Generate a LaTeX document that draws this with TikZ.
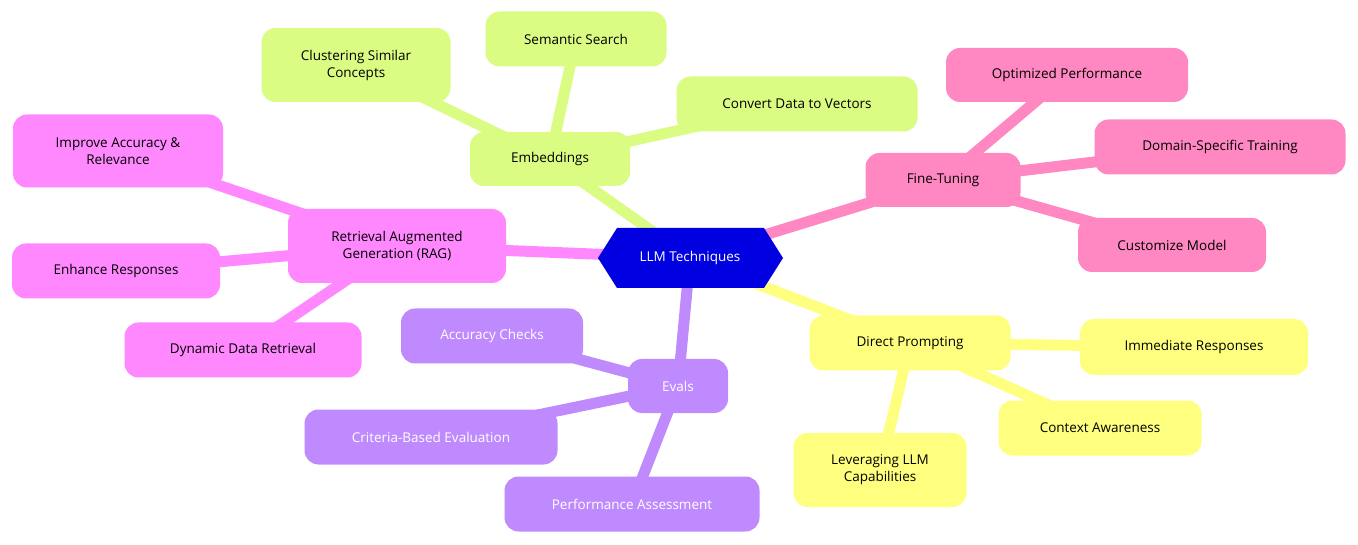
\documentclass[tikz,border=0pt]{standalone}
\usepackage{fontspec}
\setmainfont{Open Sans}
\usetikzlibrary{backgrounds}
\definecolor{colg}{HTML}{DAFC82}
\definecolor{colp}{HTML}{FF88C2}
\definecolor{colm}{HTML}{FF88FF}
\definecolor{colv}{HTML}{C08AFF}
\definecolor{coly}{HTML}{FFFF7F}
\definecolor{colb}{HTML}{0000E0}
\tikzset{
 box/.style={rectangle,rounded corners=14pt,inner sep=0pt,align=center,font=\fontsize{13.5pt}{17pt}\selectfont},
 g/.style={box,fill=colg},
 p/.style={box,fill=colp},
 m/.style={box,fill=colm},
 v/.style={box,fill=colv,text=white},
 yy/.style={box,fill=coly},
 e/.style={line width=11pt}
}
\newcommand{\bx}[6]{\node[#1,minimum width=#4pt,minimum height=#5pt] (#2) at (#3) {#6};}
\begin{document}
\begin{tikzpicture}[x=1pt,y=-1pt]
\useasboundingbox (0,0) rectangle (1358,545);
\fill[colb] (598,258)--(617,228)--(764,228)--(783,258)--(764,288)--(617,288)--cycle;
\node[font=\fontsize{13.5pt}{17pt}\selectfont,text=white] (c) at (690,258) {LLM Techniques};
\bx{g}{emb}{550,159}{160}{54}{Embeddings}
\bx{g}{sem}{576,39}{181}{55}{Semantic Search}
\bx{g}{clu}{356,65}{189}{74}{Clustering Similar\\Concepts}
\bx{g}{con}{797,104}{241}{55}{Convert Data to Vectors}
\bx{p}{fin}{943,180}{155}{54}{Fine-Tuning}
\bx{p}{opt}{1067,75}{242}{54}{Optimized Performance}
\bx{p}{dom}{1220,147}{251}{55}{Domain-Specific Training}
\bx{p}{cus}{1172,245}{188}{54}{Customize Model}
\bx{m}{rag}{397,246}{218}{74}{Retrieval Augmented\\Generation (RAG)}
\bx{m}{imp}{118,151}{210}{73}{Improve Accuracy \&\\Relevance}
\bx{m}{enh}{116,271}{208}{55}{Enhance Responses}
\bx{m}{dyn}{243,350}{237}{55}{Dynamic Data Retrieval}
\bx{v}{eva}{678,386}{100}{54}{Evals}
\bx{v}{acc}{492,336}{182}{55}{Accuracy Checks}
\bx{v}{cri}{431,437}{253}{55}{Criteria-Based Evaluation}
\bx{v}{per}{632,504}{255}{55}{Performance Assessment}
\bx{yy}{dir}{910,343}{201}{55}{Direct Prompting}
\bx{yy}{imm}{1194,347}{228}{56}{Immediate Responses}
\bx{yy}{ctx}{1100,428}{203}{55}{Context Awareness}
\bx{yy}{lev}{880,470}{173}{74}{Leveraging LLM\\Capabilities}
\begin{scope}[on background layer]
\draw[e,draw=colg] (c.center)--(emb.center) (emb.center)--(sem.center) (emb.center)--(clu.center) (emb.center)--(con.center);
\draw[e,draw=colp] (c.center)--(fin.center) (fin.center)--(opt.center) (fin.center)--(dom.center) (fin.center)--(cus.center);
\draw[e,draw=colm] (c.center)--(rag.center) (rag.center)--(imp.center) (rag.center)--(enh.center) (rag.center)--(dyn.center);
\draw[e,draw=colv] (c.center)--(eva.center) (eva.center)--(acc.center) (eva.center)--(cri.center) (eva.center)--(per.center);
\draw[e,draw=coly] (c.center)--(dir.center) (dir.center)--(imm.center) (dir.center)--(ctx.center) (dir.center)--(lev.center);
\end{scope}
\end{tikzpicture}
\end{document}
